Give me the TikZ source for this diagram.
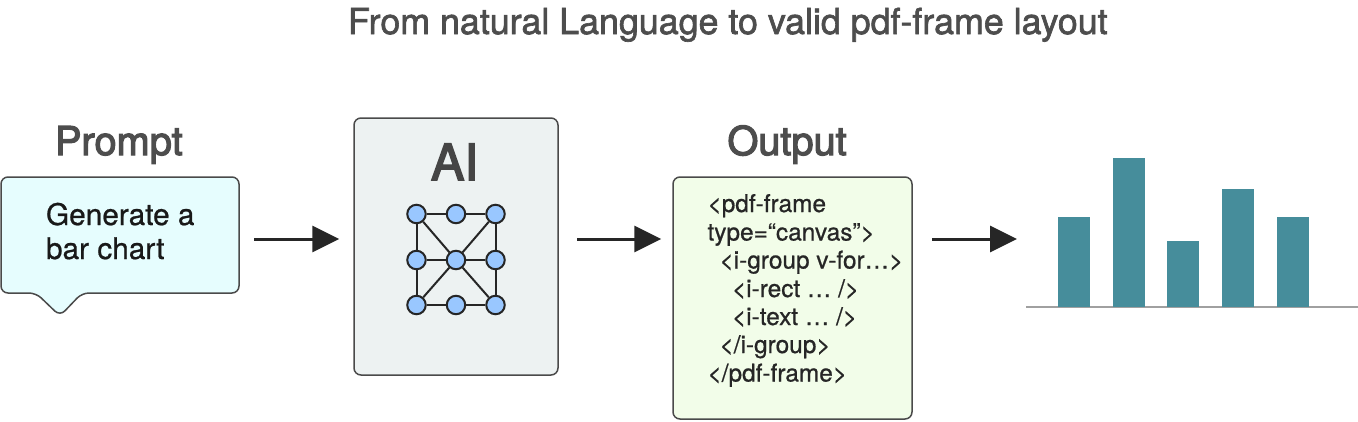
\documentclass[tikz,border=0pt]{standalone}
\usepackage{fontspec}
\setmainfont{TeX Gyre Heros}
\newfontfamily\headfont[FakeBold=3]{TeX Gyre Heros}
\newfontfamily\titlefont[FakeBold=1.8]{TeX Gyre Heros}
\newfontfamily\bodyfont[FakeBold=0.7]{TeX Gyre Heros}
\usetikzlibrary{arrows.meta}
\definecolor{edgec}{HTML}{4A4A4A}
\definecolor{titlec}{HTML}{4D4D4D}
\definecolor{codec}{HTML}{262626}
\definecolor{promptfill}{HTML}{E6FDFE}
\definecolor{aifill}{HTML}{EDF2F2}
\definecolor{outfill}{HTML}{F2FDE9}
\definecolor{dotfill}{HTML}{99C7FF}
\definecolor{barfill}{HTML}{468D9B}
\definecolor{axisc}{HTML}{A0A0A0}
\definecolor{arrowc}{HTML}{262626}
\tikzset{
  panel/.style={draw=edgec,line width=1.5pt,rounded corners=7pt,inner sep=0pt},
  lbl/.style={anchor=base west,inner sep=0pt,outer sep=0pt},
  heading/.style={lbl,text=titlec,font=\headfont\fontsize{39.7}{44}\selectfont},
  promptline/.style={lbl,text=black!90,font=\bodyfont\fontsize{29.8}{34}\selectfont},
  codeline/.style={lbl,text=codec,font=\bodyfont\fontsize{24.4}{28}\selectfont},
  dot/.style={circle,draw=black!85,line width=2pt,fill=dotfill,minimum size=18.5pt,inner sep=0pt},
  link/.style={draw=black!85,line width=2pt},
  flow/.style={draw=arrowc,line width=3pt,-{Triangle[length=27pt,width=26pt]}},
  bar/.style={fill=barfill,draw=none,anchor=south west,inner sep=0pt,minimum width=32pt},
}
\begin{document}
\begin{tikzpicture}[x=1pt,y=-1pt]
\useasboundingbox (0,0) rectangle (1358,421);
% title
\node[lbl,text=titlec,font=\titlefont\fontsize{35.8}{38}\selectfont] (title) at (348,34) {From natural Language to valid pdf-frame layout};
% prompt
\node[heading] (prompttitle) at (55,155) {Prompt};
\draw[draw=edgec,line width=1.5pt,fill=promptfill,rounded corners=7pt]
  (1,177) -- (239,177) -- (239,293) -- (82,293) -- (60,316) -- (36,293) -- (1,293) -- cycle;
\node[inner sep=0pt,minimum width=238pt,minimum height=116pt] (prompt) at (120,235) {};
\node[promptline] (p1) at (46,225) {Generate a};
\node[promptline] (p2) at (46,259) {bar chart};
% AI
\node[panel,fill=aifill,minimum width=204pt,minimum height=257pt] (ai) at (456,246.5) {};
\node[lbl,text=titlec!90!black,font=\headfont\fontsize{50}{54}\selectfont] (aititle) at (431,180) {AI};
\foreach \n/\x/\y in {a/416.5/214,b/456/214,c/495.5/214,d/416.5/260,e/456/260,f/495.5/260,g/416.5/305,h/456/305,i/495.5/305}
  \node[dot] (\n) at (\x,\y) {};
\foreach \s/\t in {a/b,b/c,a/d,d/g,c/f,f/i,d/e,e/f,g/h,h/i,a/e,c/e,g/e,i/e}
  \draw[link] (\s) -- (\t);
% output
\node[heading] (outtitle) at (727.5,155) {Output};
\node[panel,fill=outfill,minimum width=239pt,minimum height=242pt] (out) at (792.5,298) {};
\node[codeline] (c1) at (707.5,212) {<pdf-frame};
\node[codeline] (c2) at (707.5,240.5) {type=“canvas”>};
\node[codeline] (c3) at (719.5,268.5) {<i-group v-for…>};
\node[codeline] (c4) at (732,297) {<i-rect … />};
\node[codeline] (c5) at (732,325) {<i-text … />};
\node[codeline] (c6) at (719.5,353) {</i-group>};
\node[codeline] (c7) at (707.5,381.5) {</pdf-frame>};
% chart
\coordinate (ax0) at (1026,307);
\coordinate (ax1) at (1358,307);
\draw[draw=axisc,line width=1.7pt] (ax0) -- (ax1);
\foreach \n/\x/\t in {b1/1058/217,b2/1112.5/158.5,b3/1167/241.5,b4/1222/189,b5/1277/217}
  \node[bar,minimum height={307-\t}] (\n) at (\x,307) {};
% arrows
\coordinate (flowy) at (0,239);
\coordinate (chartin) at (1017,239);
\draw[flow,shorten <=15pt,shorten >=14pt] (prompt.east |- flowy) -- (ai.west |- flowy);
\draw[flow,shorten <=18.5pt,shorten >=11pt] (ai.east |- flowy) -- (out.west |- flowy);
\draw[flow,shorten <=19.5pt] (out.east |- flowy) -- (chartin);
\end{tikzpicture}
\end{document}
